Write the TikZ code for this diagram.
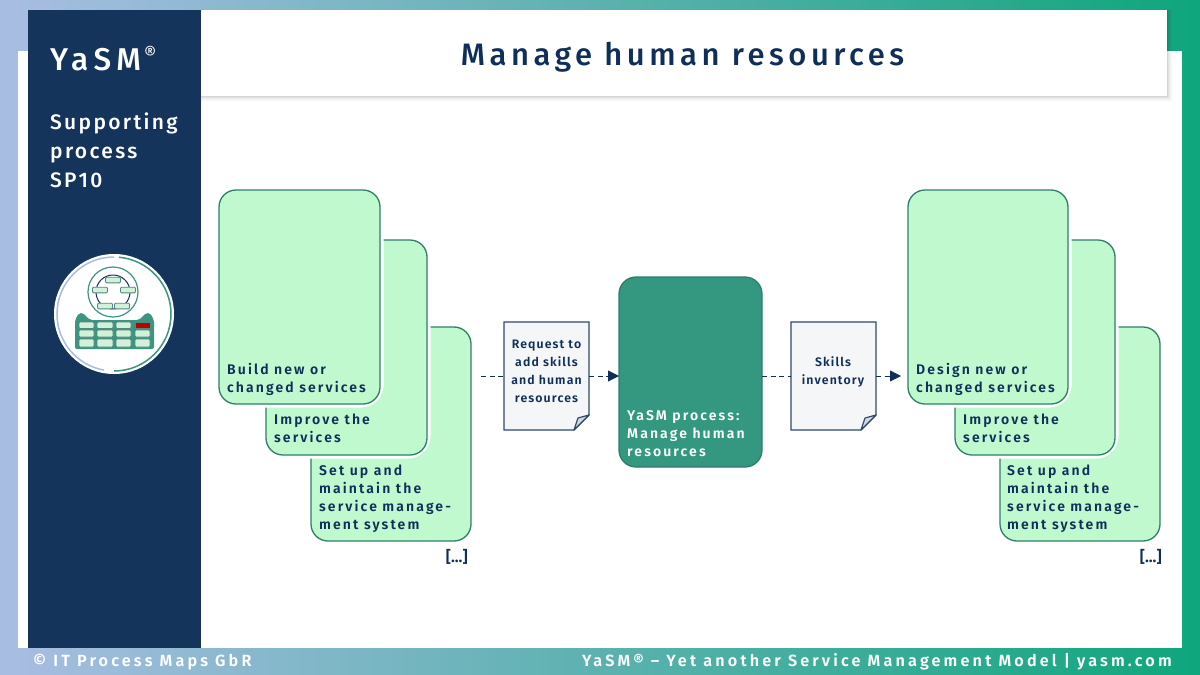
\documentclass[tikz,border=0pt]{standalone}
\usepackage{fontspec}
\setmainfont{Fira Sans}
\newfontfamily\lblfont[LetterSpace=15]{Fira Sans SemiBold}
\newfontfamily\dotfont{Fira Sans SemiBold}
\newfontfamily\titlefont[LetterSpace=14.5]{Fira Sans Medium}
\newfontfamily\brandfont[LetterSpace=17]{Fira Sans Medium}
\newfontfamily\wideff[LetterSpace=11]{Fira Sans Medium}
\newfontfamily\footfont[LetterSpace=19.5]{Fira Sans SemiBold}
\newfontfamily\docfont[LetterSpace=9]{Fira Sans SemiBold}
\usetikzlibrary{arrows.meta,calc}
\definecolor{navy}{HTML}{14345C}
\definecolor{inknavy}{HTML}{0E2F5A}
\definecolor{bgleft}{HTML}{A9BDE3}
\definecolor{bgright}{HTML}{0FA67C}
\definecolor{cardfill}{HTML}{C0F9CD}
\definecolor{cardline}{HTML}{2F7D6B}
\definecolor{procfill}{HTML}{349880}
\definecolor{docfill}{HTML}{F5F6F8}
\definecolor{docline}{HTML}{2E4A6E}
\definecolor{foldfill}{HTML}{D5D8DC}
\definecolor{iconfill}{HTML}{D3F1D8}
\definecolor{icongreen}{HTML}{3B9580}
\definecolor{iconcellline}{HTML}{4F8A80}
\tikzset{
  x=1pt,y=-1pt,
  card/.style={draw=cardline,fill=cardfill,line width=1.3pt,rounded corners=17pt,minimum width=160pt,inner sep=0pt,outer sep=0pt},
  halo/.style={draw=white,line width=7pt,rounded corners=19pt},
  cardtext/.style={font=\lblfont\fontsize{14}{18}\selectfont,text=inknavy,align=left,anchor=south west,inner sep=0pt},
  doctext/.style={font=\docfont\fontsize{12.3}{18}\selectfont,text=inknavy,align=center,inner sep=0pt},
  docbox/.style={minimum width=85pt,minimum height=108pt,inner sep=0pt,outer sep=0pt},
  docshape/.style={draw=docline,fill=docfill,line width=1.3pt,line join=miter},
  flow/.style={draw=inknavy,line width=0.8pt,dash pattern=on 5pt off 3.5pt},
  flowtip/.style={-{Triangle[length=11pt,width=11pt,fill=inknavy]}},
  iconcell/.style={draw=iconcellline,fill=iconfill,line width=1pt,rounded corners=1pt},
  ellip/.style={font=\dotfont\fontsize{16}{16}\selectfont,text=inknavy,inner sep=0pt},
  side/.style={font=\wideff\fontsize{21}{29}\selectfont,text=white,align=left,anchor=north west,inner sep=0pt},
  foot/.style={font=\footfont\fontsize{16.2}{18}\selectfont,text=white,inner sep=0pt}
}
\begin{document}
\begin{tikzpicture}
\useasboundingbox (0,0) rectangle (1200,675);
% background
\shade[left color=bgleft,right color=bgright] (0,0) rectangle (1200,675);
\fill[white] (18,51) rectangle (1182,648);
% header shadow
\foreach \d/\o in {6/0.012,5/0.016,4/0.02,3/0.03,2/0.04,1/0.05}{
  \fill[black,opacity=\o] (201,10) rectangle (1167+\d,96+\d);
}
\fill[white] (201,10) rectangle (1167,96);
\node[font=\titlefont\fontsize{31}{34}\selectfont,text=inknavy,inner sep=0pt] (title) at (682.5,57) {Manage human resources};
% sidebar
\fill[navy] (28,10) rectangle (201,648);
\node[anchor=west,font=\brandfont\fontsize{31.5}{34}\selectfont,text=white,inner sep=0pt] (brand) at (50,60) {YaSM};
\node[anchor=west,font=\fontsize{19}{20}\selectfont,text=white,inner sep=0pt] (reg) at (144,53) {®};
\node[side] (sp) at (50,113) {Supporting\\process\\SP10};
% icon
\fill[white] (114,314) circle (60);
\draw[bgleft,line width=1.5pt] (114,257) arc[start angle=-90,end angle=-260,radius=57];
\draw[icongreen,line width=1.5pt] (114,371) arc[start angle=90,end angle=-85,radius=57];
\draw[navy,line width=1pt] (113,292) circle (17);
\draw[icongreen,line width=1.2pt] (113,292) circle (25);
\foreach \x/\y in {113/280,100/290,128/290,105/306,122/306}{
  \draw[iconcell,line width=0.9pt] (\x-7.5,\y-2.8) rectangle (\x+7.5,\y+2.8);
}
\fill[icongreen,rounded corners=2pt] (75,320) -- (79,313) -- (83,313) -- (90,320) -- (139,320) -- (146,313) -- (150,313) -- (154,320) -- (154,349) -- (75,349) -- cycle;
\foreach \yy/\hh in {322/6.5,330/7,339/8}{
  \foreach \xx/\ww in {79/15,97/16,116/15,135/15}{
    \draw[iconcell,line width=0.8pt] (\xx,\yy) rectangle (\xx+\ww,\yy+\hh);
  }
}
\fill[red!75!black,draw=iconcellline,line width=0.6pt] (135,322) rectangle (150,328.5);
% left cards
\node[card,minimum height=214pt,anchor=north west] (l3) at (311,327) {};
\draw[halo] (266,240) rectangle (427,455);
\node[card,minimum height=215pt,minimum width=161pt,anchor=north west] (l2) at (266,240) {};
\draw[halo] (219,190) rectangle (380,404);
\node[card,minimum height=214pt,minimum width=161pt,anchor=north west] (l1) at (219,190) {};
\node[cardtext] (l1t) at (227,396) {Build new or\\changed services};
\node[cardtext] (l2t) at (274,443) {Improve the\\services};
\node[cardtext] (l3t) at (319,533) {Set up and\\maintain the\\service manage-\\ment system};
\node[ellip,anchor=east] (ldots) at (468,557) {[...]};
% right cards
\node[card,minimum height=214pt,anchor=north west] (r3) at (1000,327) {};
\draw[halo] (955,240) rectangle (1115,455);
\node[card,minimum height=215pt,anchor=north west] (r2) at (955,240) {};
\draw[halo] (908,190) rectangle (1068,404);
\node[card,minimum height=214pt,anchor=north west] (r1) at (908,190) {};
\node[cardtext] (r1t) at (916,396) {Design new or\\changed services};
\node[cardtext] (r2t) at (963,443) {Improve the\\services};
\node[cardtext] (r3t) at (1007,533) {Set up and\\maintain the\\service manage-\\ment system};
\node[ellip,anchor=east] (rdots) at (1162,557) {[...]};
% process
\node[draw=cardline,fill=procfill,line width=1.3pt,rounded corners=17pt,minimum width=143pt,minimum height=190pt,inner sep=0pt,outer sep=0pt,anchor=north west] (proc) at (619,277) {};
\node[cardtext,text=white,anchor=south west] (proct) at (627,457) {YaSM process:\\Manage human\\resources};
% documents
\node[docbox] (d1) at (546.5,376) {};
\node[docbox] (d2) at (833.5,376) {};
\foreach \n in {d1,d2}{
  \draw[docshape] (\n.north west) -- (\n.north east) -- ($(\n.south east)+(0,-15)$) -- ($(\n.south east)+(-15,0)$) -- (\n.south west) -- cycle;
  \draw[docline,fill=foldfill,line width=1.2pt,line join=round] ($(\n.south east)+(0,-15)$) -- ($(\n.south east)+(-11,-12)$) -- ($(\n.south east)+(-15,0)$) -- cycle;
}
\node[doctext] (d1t) at (546.5,371) {Request to\\add skills\\and human\\resources};
\node[doctext] (d2t) at (833,372) {Skills\\inventory};
% connectors
\draw[flow,shorten <=10pt] (l3.east |- d1) -- (d1.west);
\draw[flow,flowtip] (d1.east) -- (proc.west |- d1);
\draw[flow] (proc.east |- d2) -- (d2.west);
\draw[flow,flowtip,shorten >=7pt] (d2.east) -- (r1.west |- d2);
% footer
\node[foot,anchor=west] (fl) at (33,662) {© IT Process Maps GbR};
\node[foot,anchor=east] (fr) at (1172,662) {YaSM® – Yet another Service Management Model | yasm.com};
\end{tikzpicture}
\end{document}
